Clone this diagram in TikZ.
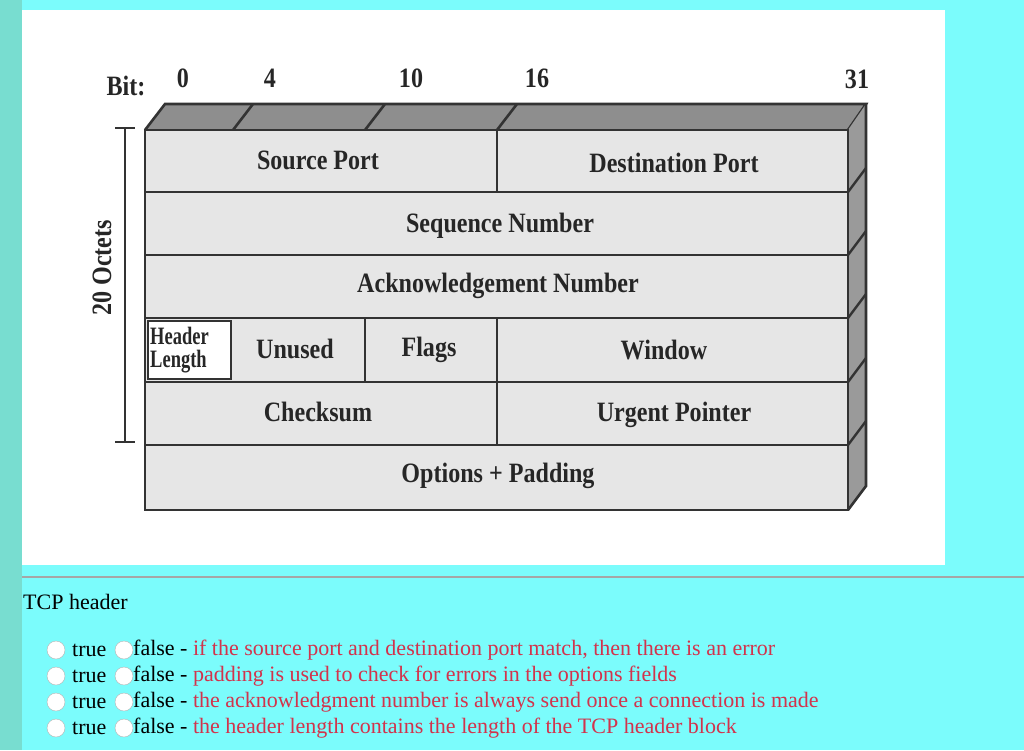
\documentclass[tikz,border=0pt]{standalone}
\usepackage{fontspec}
\setmainfont{Liberation Serif}
\usepackage{graphicx}
\definecolor{bgcyan}{HTML}{7BFCFC}
\definecolor{strip}{HTML}{78DDD0}
\definecolor{face}{HTML}{E6E6E6}
\definecolor{topf}{HTML}{8E8E8E}
\definecolor{sidef}{HTML}{9A9A9A}
\definecolor{edge}{HTML}{333333}
\definecolor{qred}{HTML}{D2334C}
\newcommand{\dl}[1]{\scalebox{0.86}[1]{#1}}
\newcommand{\hs}[1]{\scalebox{0.74}[1]{#1}}
\tikzset{
  lbl/.style={font=\fontsize{28}{30}\selectfont\bfseries, inner sep=0pt, text=black!85},
  hl/.style={font=\fontsize{25}{24}\selectfont\bfseries, inner sep=0pt, align=left, text=black!85},
  cell/.style={draw=edge, line width=2.6pt, fill=face},
  radio/.style={circle, draw=gray!60, fill=white, minimum size=18pt, inner sep=0pt},
  qtxt/.style={font=\fontsize{22}{24}\selectfont, inner sep=0pt, anchor=west},
}
\begin{document}
\begin{tikzpicture}[x=1pt,y=-1pt]
\useasboundingbox (0,0) rectangle (1024,750);
\fill[bgcyan] (0,0) rectangle (1024,750);
\fill[strip] (0,0) rectangle (22,750);
\fill[white] (22,10) rectangle (945,565);
\draw[gray!70, line width=1.2pt] (22,577) -- (1024,577);
% top face
\fill[topf] (145,130) -- (165,104) -- (866,104) -- (848,130) -- cycle;
\draw[edge, line width=2.6pt] (145,130) -- (165,104) -- (866,104) -- (848,130);
\foreach \x in {233,365,497} \draw[edge, line width=2.6pt] (\x,130) -- (\x+20,104);
% right face
\fill[sidef] (848,130) -- (866,104) -- (866,486) -- (848,510) -- cycle;
\draw[edge, line width=2.6pt] (866,104) -- (866,486) -- (848,510);
\foreach \y in {192,255,318,382,445} \draw[edge, line width=2.4pt] (848,\y) -- (866,\y-24);
% rows
\draw[cell] (145,130) rectangle (497,192);
\draw[cell] (497,130) rectangle (848,192);
\draw[cell] (145,192) rectangle (848,255);
\draw[cell] (145,255) rectangle (848,318);
\draw[cell] (145,318) rectangle (365,382);
\draw[cell] (365,318) rectangle (497,382);
\draw[cell] (497,318) rectangle (848,382);
\draw[cell] (145,382) rectangle (497,445);
\draw[cell] (497,382) rectangle (848,445);
\draw[cell] (145,445) rectangle (848,510);
\draw[edge, line width=1.8pt, fill=white] (148,321) rectangle (231,379);
\node[lbl] (sp) at (318,160) {\dl{Source Port}};
\node[lbl] (dp) at (674,163) {\dl{Destination Port}};
\node[lbl] (sn) at (500,226) {\dl{Sequence Number}};
\node[lbl] (an) at (498,286) {\dl{Acknowledgement Number}};
\node[hl, anchor=west] (hlen) at (150,350) {\hs{Header}\\[-1pt]\hs{Length}};
\node[lbl] (un) at (295,349) {\dl{Unused}};
\node[lbl] (fl) at (429,350) {\dl{Flags}};
\node[lbl] (wi) at (664,350) {\dl{Window}};
\node[lbl] (cs) at (318,412) {\dl{Checksum}};
\node[lbl] (up) at (674,415) {\dl{Urgent Pointer}};
\node[lbl] (op) at (498,476) {\dl{Options + Padding}};
% bits
\node[lbl] (bit) at (126,86) {\dl{Bit:}};
\node[lbl] (b0) at (183,78) {\dl{0}};
\node[lbl] (b4) at (270,78) {\dl{4}};
\node[lbl] (b10) at (411,78) {\dl{10}};
\node[lbl] (b16) at (537,78) {\dl{16}};
\node[lbl] (b31) at (857,79) {\dl{31}};
% octets
\draw[edge, line width=2.4pt] (125,128) -- (125,442);
\draw[edge, line width=2.4pt] (115,128) -- (135,128);
\draw[edge, line width=2.4pt] (115,442) -- (135,442);
\node[lbl, rotate=90] (oc) at (102,268) {\dl{20 Octets}};
% bottom text
\node[qtxt] (tcp) at (23,602) {TCP header};
\foreach \y/\t in {650/{if the source port and destination port match, then there is an error},
                   676/{padding is used to check for errors in the options fields},
                   702/{the acknowledgment number is always send once a connection is made},
                   728/{the header length contains the length of the TCP header block}}{
  \node[radio] (r1\y) at (56,\y) {};
  \node[qtxt] (t\y) at (72,\y) {true};
  \node[radio] (r2\y) at (124,\y) {};
  \node[qtxt] (f\y) at (133,\y) {false - \textcolor{qred}{\t}};
}
\end{tikzpicture}
\end{document}
